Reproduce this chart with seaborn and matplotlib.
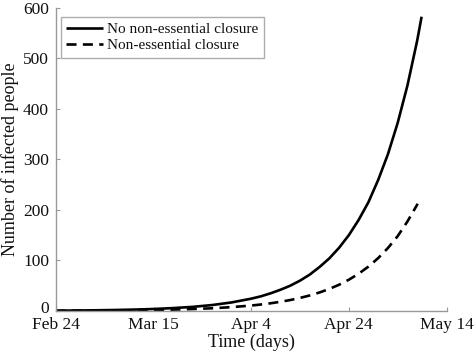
import pandas as pd
import matplotlib
matplotlib.use("Agg")
import matplotlib.pyplot as plt
import matplotlib.transforms as mtransforms
import seaborn as sns

# days since Feb 24
days_open = [0, 4, 8, 12, 16, 20, 24, 28, 32, 36, 40, 42, 44, 46, 48, 50, 52, 54,
             56, 58, 60, 62, 64, 66, 68, 70, 72, 74, 74.9]
infected_open = [0.6, 0.9, 1.3, 1.9, 2.7, 3.9, 5.7, 8.1, 11.7, 16.9, 24.3, 29, 35, 42,
                 50, 60, 72, 87, 104, 125, 150, 180, 215, 259, 310, 372, 446, 535, 582]

days_closed = [0, 4, 8, 12, 16, 20, 24, 28, 32, 36, 40, 42, 44, 46, 48, 50, 52, 54,
               56, 58, 60, 62, 64, 66, 68, 70, 72, 74.1]
infected_closed = [0.3, 0.5, 0.7, 0.9, 1.3, 1.9, 2.6, 3.8, 5.3, 7.6, 10.7, 12.8, 15.2,
                   18.2, 21.6, 25.8, 30.7, 36.6, 43.6, 51.9, 61.8, 73.6, 87.7, 104.5,
                   124.5, 148, 177, 212]

series_names = ["No non-essential closure", "Non-essential closure"]
x_ticks = [0, 20, 40, 60, 80]
x_tick_labels = ["Feb 24", "Mar 15", "Apr 4", "Apr 24", "May 14"]
y_ticks = [0, 100, 200, 300, 400, 500, 600]

df = pd.concat([
    pd.DataFrame({"day": days_open, "infected": infected_open, "scenario": series_names[0]}),
    pd.DataFrame({"day": days_closed, "infected": infected_closed, "scenario": series_names[1]}),
])

sns.set_theme(style="white")
plt.rcParams['font.family'] = ['Liberation Serif', 'DejaVu Serif']

fig = plt.figure(figsize=(4.74, 3.62), dpi=100)
ax = fig.add_axes([0.118, 0.141, 0.824, 0.838])

sns.lineplot(data=df, x="day", y="infected", hue="scenario", style="scenario",
             palette=["black", "black"], dashes=[(1, 0), (3.8, 2.4)],
             linewidth=1.9, ax=ax, estimator=None, sort=True)

ax.set_xlim(0, 80)
ax.set_ylim(0, 600)
ax.set_xticks(x_ticks)
ax.set_xticklabels(x_tick_labels)
ax.set_yticks(y_ticks)
ax.set_xlabel("Time (days)", fontsize=13, labelpad=0, color="#111111")
ax.set_ylabel("Number of infected people", fontsize=13, labelpad=3, color="#111111")

for side in ["top", "right"]:
    ax.spines[side].set_visible(False)
for side in ["left", "bottom"]:
    ax.spines[side].set_color("#999999")
    ax.spines[side].set_linewidth(1.0)
ax.tick_params(direction="in", length=3, width=0.8, color="#999999",
               labelsize=12.5, labelcolor="#111111",
               bottom=True, left=True)
ax.tick_params(axis="x", pad=4.5)
ax.tick_params(axis="y", pad=5)

# lift the "0" label a touch so it clears "Feb 24"
zero_lbl = ax.yaxis.get_major_ticks()[0].label1
zero_lbl.set_transform(zero_lbl.get_transform()
                       + mtransforms.ScaledTranslation(0, 2.5 / 72, fig.dpi_scale_trans))

leg = ax.legend(loc="upper left", bbox_to_anchor=(0.012, 0.968), fontsize=11,
                frameon=True, fancybox=False, edgecolor="#999999",
                borderpad=0.35, labelspacing=0.15, handlelength=2.4,
                handletextpad=0.3, borderaxespad=0.0)
leg.get_frame().set_linewidth(1.0)
for t in leg.get_texts():
    t.set_color("#111111")

fig.savefig("out.png", dpi=100)
